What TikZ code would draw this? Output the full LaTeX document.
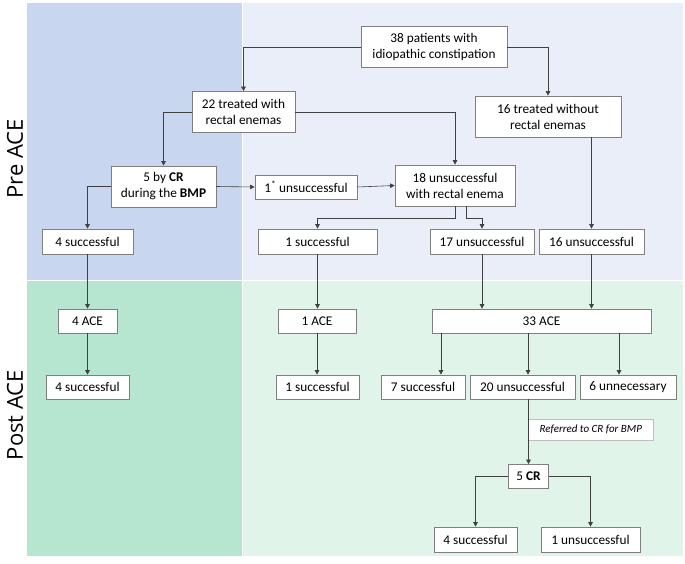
\documentclass[tikz,border=0pt]{standalone}
\usepackage{fontspec}
\setmainfont{Carlito}
\newfontfamily\sidefont{Open Sans}
\usetikzlibrary{arrows.meta}
\definecolor{tl}{HTML}{C9D6EF}
\definecolor{tr}{HTML}{E9EEF8}
\definecolor{bl}{HTML}{B6E6CF}
\definecolor{br}{HTML}{E0F4EA}
\definecolor{boxline}{HTML}{7F7F7F}
\definecolor{conn}{HTML}{404040}
\begin{document}
\begin{tikzpicture}[x=1pt,y=-1pt,
  box/.style={draw=boxline,fill=white,line width=0.7pt,inner sep=0pt,align=center,
    font=\fontsize{13.3}{16}\selectfont},
  arr/.style={draw=conn,line width=0.6pt,-{Triangle[width=4.5pt,length=4.5pt]}},
  side/.style={font=\sidefont\fontsize{22}{24}\selectfont,rotate=90}]
\useasboundingbox (0,0) rectangle (685,563);
\fill[white] (0,0) rectangle (685,563);
\fill[tl] (27,3) rectangle (242,280);
\fill[tr] (243,3) rectangle (683,280);
\fill[bl] (27,281) rectangle (242,556);
\fill[br] (243,281) rectangle (683,556);
\node[side] (pre) at (15,159) {Pre ACE};
\node[side] (post) at (15,415) {Post ACE};
% pre nodes
\node[box,minimum width=146,minimum height=41] (n38) at (434,47) {38 patients with\\idiopathic constipation};
\node[box,minimum width=103,minimum height=41] (n22) at (243.5,112) {22 treated with\\rectal enemas};
\node[box,minimum width=146,minimum height=41] (n16t) at (548,116.5) {16 treated without\\rectal enemas};
\node[box,minimum width=105,minimum height=41] (n5cr) at (163.5,186.5) {5 by \textbf{CR}\\during the \textbf{BMP}};
\node[box,minimum width=102,minimum height=24] (n1star) at (306,187) {1\textsuperscript{*} unsuccessful};
\node[box,minimum width=120,minimum height=41] (n18) at (455,185.5) {18 unsuccessful\\with rectal enema};
\node[box,minimum width=91,minimum height=25] (n4s) at (87.5,241.5) {4 successful};
\node[box,minimum width=119,minimum height=25] (n1s) at (317.5,241.5) {1 successful};
\node[box,minimum width=104,minimum height=25] (n17) at (482,241.5) {17 unsuccessful};
\node[box,minimum width=105,minimum height=25] (n16u) at (591.5,241.5) {16 unsuccessful};
% post nodes
\node[box,minimum width=59,minimum height=24] (n4ace) at (87.5,321) {4 ACE};
\node[box,minimum width=78,minimum height=24] (n1ace) at (317,321) {1 ACE};
\node[box,minimum width=219,minimum height=24] (n33) at (541.5,321) {33 ACE};
\node[box,minimum width=83,minimum height=24] (n4sp) at (87.5,387) {4 successful};
\node[box,minimum width=83,minimum height=24] (n1sp) at (317.5,387) {1 successful};
\node[box,minimum width=84,minimum height=24] (n7) at (423,387) {7 successful};
\node[box,minimum width=105,minimum height=24] (n20) at (522.5,387) {20 unsuccessful};
\node[box,minimum width=96,minimum height=24] (n6) at (628,387) {6 unnecessary};
\node[box,minimum width=40,minimum height=24] (n5) at (528.5,476.5) {5 \textbf{CR}};
\node[box,minimum width=83,minimum height=25] (n4b) at (475.5,539.5) {4 successful};
\node[box,minimum width=99,minimum height=25] (n1b) at (590.5,539.5) {1 unsuccessful};
% connectors pre
\draw[arr] (n38.west) -| (n22.north);
\draw[arr] (n38.east) -| (n16t.north);
\draw[arr] (n22.west) -| (n5cr.north);
\draw[arr] (n22.east) -| (n18.north);
\draw[arr] (n5cr.east) -- (n1star.west);
\draw[arr] (n1star.east) -- (n18.west);
\draw[arr] (n5cr.west) -| (n4s.north);
\draw[arr] (n18.south) -- ++(0,12) -| (n1s.north);
\draw[arr] ([xshift=11pt]n18.south) -- ++(0,12) -| (n17.north);
\draw[arr] (n16u.north |- n16t.south) -- (n16u.north);
% connectors to post
\draw[arr] (n4s.south) -- (n4s.south |- n4ace.north);
\draw[arr] (n1s.south) -- (n1s.south |- n1ace.north);
\draw[arr] (n17.south) -- (n17.south |- n33.north);
\draw[arr] (n16u.south) -- (n16u.south |- n33.north);
% post connectors
\draw[arr] (n4ace.south) -- (n4ace.south |- n4sp.north);
\draw[arr] (n1ace.south) -- (n1ace.south |- n1sp.north);
\draw[arr] ([xshift=18pt]n7.north |- n33.south) -- ([xshift=18pt]n7.north);
\draw[arr] ([xshift=5.5pt]n20.north |- n33.south) -- ([xshift=5.5pt]n20.north);
\draw[arr] ([xshift=-9pt]n6.north |- n33.south) -- ([xshift=-9pt]n6.north);
\node[fill=white,draw=black!25,line width=0.6pt,anchor=west,minimum width=125,minimum height=21,inner sep=0pt,
  font=\itshape\fontsize{11}{13}\selectfont] (lab) at (528,429.5) {Referred to CR for BMP};
\draw[arr] (n5.north |- n20.south) -- (n5.north);
\draw[arr] (n5.west) -| (n4b.north);
\draw[arr] (n5.east) -| (n1b.north);
\end{tikzpicture}
\end{document}
